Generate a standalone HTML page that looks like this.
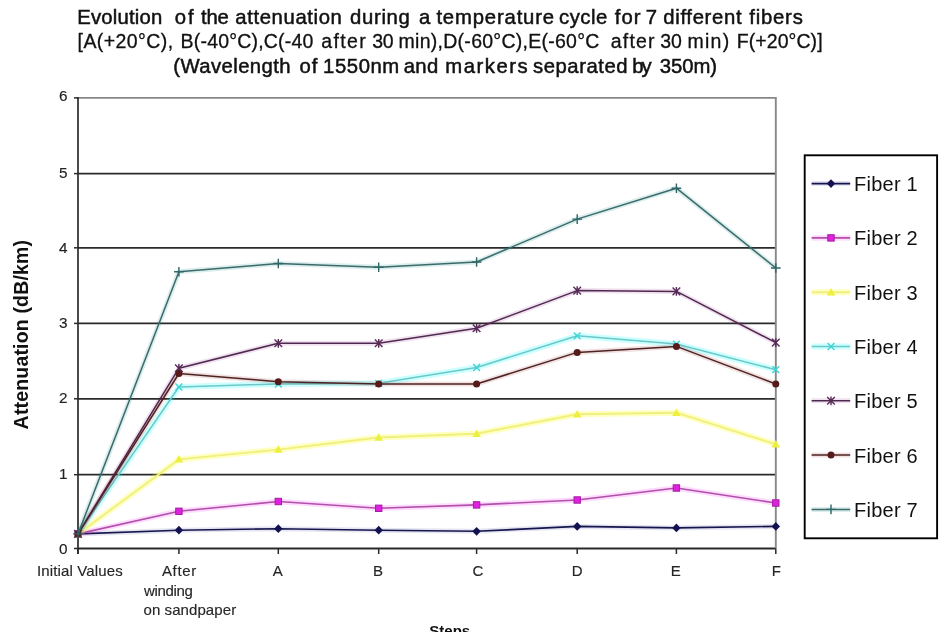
<!DOCTYPE html>
<html><head><meta charset="utf-8"><style>
html,body{margin:0;padding:0;background:#fff;}
svg{display:block;filter:blur(0.5px);}
text{font-family:"Liberation Sans",sans-serif;fill:#111;white-space:pre;}
.ax{font-size:15px;fill:#262626;stroke:#262626;stroke-width:0.15px;}
.ay{font-size:15.3px;fill:#222;stroke:#222;stroke-width:0.15px;}
.lg{font-size:20px;}
.bt{font-size:20px;font-weight:bold;}
.tt{font-size:19.5px;stroke:#111;stroke-width:1.0px;}
</style></head><body>
<svg xml:space="preserve" width="950" height="632" viewBox="0 0 950 632">
<rect width="950" height="632" fill="#fff"/>
<line x1="78" y1="548.5" x2="776" y2="548.5" stroke="#2a2a2a" stroke-width="1.8"/>
<line x1="78" y1="474.7" x2="776" y2="474.7" stroke="#2a2a2a" stroke-width="1.8"/>
<line x1="78" y1="398.8" x2="776" y2="398.8" stroke="#2a2a2a" stroke-width="1.8"/>
<line x1="78" y1="323.4" x2="776" y2="323.4" stroke="#2a2a2a" stroke-width="1.8"/>
<line x1="78" y1="247.8" x2="776" y2="247.8" stroke="#2a2a2a" stroke-width="1.8"/>
<line x1="78" y1="173.6" x2="776" y2="173.6" stroke="#2a2a2a" stroke-width="1.8"/>
<path d="M78 97.9H775.8V548.5" stroke="#888" stroke-width="1.9" fill="none"/>
<line x1="78" y1="96.9" x2="78" y2="554.0" stroke="#2a2a2a" stroke-width="1.7"/>
<line x1="74" y1="548.5" x2="78" y2="548.5" stroke="#2a2a2a" stroke-width="1.5"/>
<line x1="74" y1="474.7" x2="78" y2="474.7" stroke="#2a2a2a" stroke-width="1.5"/>
<line x1="74" y1="398.8" x2="78" y2="398.8" stroke="#2a2a2a" stroke-width="1.5"/>
<line x1="74" y1="323.4" x2="78" y2="323.4" stroke="#2a2a2a" stroke-width="1.5"/>
<line x1="74" y1="247.8" x2="78" y2="247.8" stroke="#2a2a2a" stroke-width="1.5"/>
<line x1="74" y1="173.6" x2="78" y2="173.6" stroke="#2a2a2a" stroke-width="1.5"/>
<line x1="74" y1="97.9" x2="78" y2="97.9" stroke="#2a2a2a" stroke-width="1.5"/>
<line x1="78.0" y1="548.5" x2="78.0" y2="554.0" stroke="#2a2a2a" stroke-width="1.5"/>
<line x1="178.9" y1="548.5" x2="178.9" y2="554.0" stroke="#2a2a2a" stroke-width="1.5"/>
<line x1="278.3" y1="548.5" x2="278.3" y2="554.0" stroke="#2a2a2a" stroke-width="1.5"/>
<line x1="378.7" y1="548.5" x2="378.7" y2="554.0" stroke="#2a2a2a" stroke-width="1.5"/>
<line x1="476.6" y1="548.5" x2="476.6" y2="554.0" stroke="#2a2a2a" stroke-width="1.5"/>
<line x1="577.2" y1="548.5" x2="577.2" y2="554.0" stroke="#2a2a2a" stroke-width="1.5"/>
<line x1="676.4" y1="548.5" x2="676.4" y2="554.0" stroke="#2a2a2a" stroke-width="1.5"/>
<line x1="775.8" y1="548.5" x2="775.8" y2="554.0" stroke="#2a2a2a" stroke-width="1.5"/>
<text x="67.4" y="553.7" text-anchor="end" class="ay">0</text>
<text x="67.4" y="479.0" text-anchor="end" class="ay">1</text>
<text x="67.4" y="402.7" text-anchor="end" class="ay">2</text>
<text x="67.4" y="328.4" text-anchor="end" class="ay">3</text>
<text x="67.4" y="252.9" text-anchor="end" class="ay">4</text>
<text x="67.4" y="177.5" text-anchor="end" class="ay">5</text>
<text x="67.4" y="101.3" text-anchor="end" class="ay">6</text>
<text x="36.92" y="575.6" class="ax" style="letter-spacing:0.144px">Initial Values</text>
<text x="161.97" y="575.6" class="ax" style="letter-spacing:0.650px">After</text>
<text x="272.77" y="575.6" class="ax">A</text>
<text x="372.97" y="575.6" class="ax">B</text>
<text x="472.54" y="575.6" class="ax">C</text>
<text x="571.87" y="575.6" class="ax">D</text>
<text x="670.77" y="575.6" class="ax">E</text>
<text x="771.87" y="575.6" class="ax">F</text>
<text x="144.12" y="596.1" class="ax" style="letter-spacing:-0.354px">winding</text>
<text x="143.47" y="614.6" class="ax" style="letter-spacing:0.085px">on sandpaper</text>
<text x="449.8" y="635.5" text-anchor="middle" class="bt" style="font-size:15px">Steps</text>
<text transform="translate(27.6 429.3) rotate(-90)" x="-0.09" class="bt" style="font-size:19.5px;letter-spacing:0.174px">Attenuation (dB/km)</text>
<text x="77.33" y="24.1" class="tt" style="font-size:20.3px;letter-spacing:0.184px;stroke-width:0.5px">Evolution</text>
<text x="174.85" y="24.1" class="tt" style="font-size:20.3px;letter-spacing:1.993px;stroke-width:0.5px">of</text>
<text x="201.09" y="24.1" class="tt" style="font-size:20.3px;letter-spacing:-0.205px;stroke-width:0.5px">the</text>
<text x="235.34" y="24.1" class="tt" style="font-size:20.3px;letter-spacing:0.612px;stroke-width:0.5px">attenuation</text>
<text x="350.05" y="24.1" class="tt" style="font-size:20.3px;letter-spacing:0.686px;stroke-width:0.5px">during</text>
<text x="419.04" y="24.1" class="tt" style="font-size:20.3px;letter-spacing:0.000px;stroke-width:0.5px">a</text>
<text x="436.39" y="24.1" class="tt" style="font-size:20.3px;letter-spacing:0.836px;stroke-width:0.5px">temperature</text>
<text x="559.04" y="24.1" class="tt" style="font-size:20.3px;letter-spacing:0.504px;stroke-width:0.5px">cycle</text>
<text x="614.81" y="24.1" class="tt" style="font-size:20.3px;letter-spacing:0.967px;stroke-width:0.5px">for</text>
<text x="645.66" y="24.1" class="tt" style="font-size:20.3px;letter-spacing:0.000px;stroke-width:0.5px">7</text>
<text x="663.25" y="24.1" class="tt" style="font-size:20.3px;letter-spacing:0.681px;stroke-width:0.5px">different</text>
<text x="749.31" y="24.1" class="tt" style="font-size:20.3px;letter-spacing:0.776px;stroke-width:0.5px">fibers</text>
<text x="77.61" y="47.5" class="tt" style="font-size:19.5px;letter-spacing:0.417px;stroke-width:0.3px">[A(+20°C),</text>
<text x="180.60" y="47.5" class="tt" style="font-size:19.5px;letter-spacing:0.187px;stroke-width:0.3px">B(-40°C),C(-40</text>
<text x="321.17" y="47.5" class="tt" style="font-size:19.5px;letter-spacing:1.383px;stroke-width:0.3px">after</text>
<text x="372.26" y="47.5" class="tt" style="font-size:19.5px;letter-spacing:-0.386px;stroke-width:0.3px">30</text>
<text x="398.61" y="47.5" class="tt" style="font-size:19.5px;letter-spacing:0.265px;stroke-width:0.3px">min),D(-60°C),E(-60°C</text>
<text x="610.67" y="47.5" class="tt" style="font-size:19.5px;letter-spacing:1.233px;stroke-width:0.3px">after</text>
<text x="660.16" y="47.5" class="tt" style="font-size:19.5px;letter-spacing:0.114px;stroke-width:0.3px">30</text>
<text x="687.51" y="47.5" class="tt" style="font-size:19.5px;letter-spacing:1.263px;stroke-width:0.3px">min)</text>
<text x="736.70" y="47.5" class="tt" style="font-size:19.5px;letter-spacing:0.077px;stroke-width:0.3px">F(+20°C)]</text>
<text x="173.34" y="72.5" class="tt" style="font-size:20.3px;letter-spacing:0.412px;stroke-width:0.5px">(Wavelength</text>
<text x="299.55" y="72.5" class="tt" style="font-size:20.3px;letter-spacing:0.993px;stroke-width:0.5px">of</text>
<text x="323.05" y="72.5" class="tt" style="font-size:20.3px;letter-spacing:0.585px;stroke-width:0.5px">1550nm</text>
<text x="403.74" y="72.5" class="tt" style="font-size:20.3px;letter-spacing:0.351px;stroke-width:0.5px">and</text>
<text x="445.35" y="72.5" class="tt" style="font-size:20.3px;letter-spacing:1.512px;stroke-width:0.5px">markers</text>
<text x="533.04" y="72.5" class="tt" style="font-size:20.3px;letter-spacing:0.548px;stroke-width:0.5px">separated</text>
<text x="632.29" y="72.5" class="tt" style="font-size:20.3px;letter-spacing:-1.992px;stroke-width:0.5px">by</text>
<text x="659.63" y="72.5" class="tt" style="font-size:20.3px;letter-spacing:-0.002px;stroke-width:0.5px">350m)</text>
<polyline points="78.0,533.9 178.9,530.2 278.3,528.7 378.7,530.2 476.6,531.3 577.2,526.4 676.4,527.9 775.8,526.4" fill="none" stroke="#000080" stroke-opacity="0.1" stroke-width="5.0" stroke-linejoin="round"/>
<polyline points="78.0,533.9 178.9,530.2 278.3,528.7 378.7,530.2 476.6,531.3 577.2,526.4 676.4,527.9 775.8,526.4" fill="none" stroke="#16164e" stroke-width="1.6" stroke-linejoin="round"/>
<path d="M78.0 529.5L82.2 533.9L78.0 538.3L73.8 533.9Z" fill="#121250"/>
<path d="M178.9 525.8L183.1 530.2L178.9 534.6L174.7 530.2Z" fill="#121250"/>
<path d="M278.3 524.3L282.5 528.7L278.3 533.1L274.1 528.7Z" fill="#121250"/>
<path d="M378.7 525.8L382.9 530.2L378.7 534.6L374.5 530.2Z" fill="#121250"/>
<path d="M476.6 526.9L480.8 531.3L476.6 535.7L472.4 531.3Z" fill="#121250"/>
<path d="M577.2 522.0L581.4 526.4L577.2 530.8L573.0 526.4Z" fill="#121250"/>
<path d="M676.4 523.5L680.6 527.9L676.4 532.3L672.2 527.9Z" fill="#121250"/>
<path d="M775.8 522.0L780.0 526.4L775.8 530.8L771.6 526.4Z" fill="#121250"/>
<polyline points="78.0,533.9 178.9,511.3 278.3,501.5 378.7,508.3 476.6,504.9 577.2,500.0 676.4,488.0 775.8,503.0" fill="none" stroke="#ff00ff" stroke-opacity="0.14" stroke-width="5.5" stroke-linejoin="round"/>
<polyline points="78.0,533.9 178.9,511.3 278.3,501.5 378.7,508.3 476.6,504.9 577.2,500.0 676.4,488.0 775.8,503.0" fill="none" stroke="#b050a8" stroke-width="1.6" stroke-linejoin="round"/>
<rect x="74.8" y="530.7" width="6.4" height="6.4" fill="#e020e0" stroke="#a020a0" stroke-width="1"/>
<rect x="175.7" y="508.1" width="6.4" height="6.4" fill="#e020e0" stroke="#a020a0" stroke-width="1"/>
<rect x="275.1" y="498.3" width="6.4" height="6.4" fill="#e020e0" stroke="#a020a0" stroke-width="1"/>
<rect x="375.5" y="505.1" width="6.4" height="6.4" fill="#e020e0" stroke="#a020a0" stroke-width="1"/>
<rect x="473.4" y="501.7" width="6.4" height="6.4" fill="#e020e0" stroke="#a020a0" stroke-width="1"/>
<rect x="574.0" y="496.8" width="6.4" height="6.4" fill="#e020e0" stroke="#a020a0" stroke-width="1"/>
<rect x="673.2" y="484.8" width="6.4" height="6.4" fill="#e020e0" stroke="#a020a0" stroke-width="1"/>
<rect x="772.6" y="499.8" width="6.4" height="6.4" fill="#e020e0" stroke="#a020a0" stroke-width="1"/>
<polyline points="78.0,533.9 178.9,459.4 278.3,449.6 378.7,437.5 476.6,433.7 577.2,414.2 676.4,412.7 775.8,444.3" fill="none" stroke="#ffff00" stroke-opacity="0.24" stroke-width="6.0" stroke-linejoin="round"/>
<polyline points="78.0,533.9 178.9,459.4 278.3,449.6 378.7,437.5 476.6,433.7 577.2,414.2 676.4,412.7 775.8,444.3" fill="none" stroke="#f0f080" stroke-width="1.9" stroke-linejoin="round"/>
<path d="M78.0 529.6L82.3 537.2L73.7 537.2Z" fill="#eef040"/>
<path d="M178.9 455.1L183.2 462.6L174.6 462.6Z" fill="#eef040"/>
<path d="M278.3 445.3L282.6 452.8L274.0 452.8Z" fill="#eef040"/>
<path d="M378.7 433.2L383.0 440.7L374.4 440.7Z" fill="#eef040"/>
<path d="M476.6 429.4L480.9 437.0L472.3 437.0Z" fill="#eef040"/>
<path d="M577.2 409.9L581.5 417.4L572.9 417.4Z" fill="#eef040"/>
<path d="M676.4 408.4L680.7 415.9L672.1 415.9Z" fill="#eef040"/>
<path d="M775.8 440.0L780.1 447.5L771.5 447.5Z" fill="#eef040"/>
<polyline points="78.0,533.9 178.9,387.0 278.3,384.0 378.7,383.3 476.6,367.5 577.2,335.8 676.4,344.1 775.8,369.7" fill="none" stroke="#00ffff" stroke-opacity="0.2" stroke-width="6.0" stroke-linejoin="round"/>
<polyline points="78.0,533.9 178.9,387.0 278.3,384.0 378.7,383.3 476.6,367.5 577.2,335.8 676.4,344.1 775.8,369.7" fill="none" stroke="#6cc8c8" stroke-width="1.5" stroke-linejoin="round"/>
<path d="M74.6 530.5L81.4 537.3M81.4 530.5L74.6 537.3" stroke="#40d4d4" stroke-width="1.4" fill="none"/>
<path d="M175.5 383.6L182.3 390.4M182.3 383.6L175.5 390.4" stroke="#40d4d4" stroke-width="1.4" fill="none"/>
<path d="M274.9 380.6L281.7 387.4M281.7 380.6L274.9 387.4" stroke="#40d4d4" stroke-width="1.4" fill="none"/>
<path d="M375.3 379.9L382.1 386.7M382.1 379.9L375.3 386.7" stroke="#40d4d4" stroke-width="1.4" fill="none"/>
<path d="M473.2 364.1L480.0 370.9M480.0 364.1L473.2 370.9" stroke="#40d4d4" stroke-width="1.4" fill="none"/>
<path d="M573.8 332.4L580.6 339.2M580.6 332.4L573.8 339.2" stroke="#40d4d4" stroke-width="1.4" fill="none"/>
<path d="M673.0 340.7L679.8 347.5M679.8 340.7L673.0 347.5" stroke="#40d4d4" stroke-width="1.4" fill="none"/>
<path d="M772.4 366.3L779.2 373.1M779.2 366.3L772.4 373.1" stroke="#40d4d4" stroke-width="1.4" fill="none"/>
<polyline points="78.0,533.9 178.9,368.2 278.3,343.3 378.7,343.3 476.6,328.3 577.2,290.6 676.4,291.4 775.8,342.6" fill="none" stroke="#800080" stroke-opacity="0.12" stroke-width="5.0" stroke-linejoin="round"/>
<polyline points="78.0,533.9 178.9,368.2 278.3,343.3 378.7,343.3 476.6,328.3 577.2,290.6 676.4,291.4 775.8,342.6" fill="none" stroke="#4e2a4e" stroke-width="1.5" stroke-linejoin="round"/>
<path d="M74.2 530.1L81.8 537.7M81.8 530.1L74.2 537.7M78.0 529.5L78.0 538.3" stroke="#582a58" stroke-width="1.4" fill="none"/>
<path d="M175.1 364.4L182.7 372.0M182.7 364.4L175.1 372.0M178.9 363.8L178.9 372.6" stroke="#582a58" stroke-width="1.4" fill="none"/>
<path d="M274.5 339.5L282.1 347.1M282.1 339.5L274.5 347.1M278.3 338.9L278.3 347.7" stroke="#582a58" stroke-width="1.4" fill="none"/>
<path d="M374.9 339.5L382.5 347.1M382.5 339.5L374.9 347.1M378.7 338.9L378.7 347.7" stroke="#582a58" stroke-width="1.4" fill="none"/>
<path d="M472.8 324.5L480.4 332.1M480.4 324.5L472.8 332.1M476.6 323.9L476.6 332.7" stroke="#582a58" stroke-width="1.4" fill="none"/>
<path d="M573.4 286.8L581.0 294.4M581.0 286.8L573.4 294.4M577.2 286.2L577.2 295.0" stroke="#582a58" stroke-width="1.4" fill="none"/>
<path d="M672.6 287.6L680.2 295.2M680.2 287.6L672.6 295.2M676.4 287.0L676.4 295.8" stroke="#582a58" stroke-width="1.4" fill="none"/>
<path d="M772.0 338.8L779.6 346.4M779.6 338.8L772.0 346.4M775.8 338.2L775.8 347.0" stroke="#582a58" stroke-width="1.4" fill="none"/>
<polyline points="78.0,533.9 178.9,373.5 278.3,381.8 378.7,384.0 476.6,384.0 577.2,352.4 676.4,346.4 775.8,384.0" fill="none" stroke="#800000" stroke-opacity="0.12" stroke-width="5.0" stroke-linejoin="round"/>
<polyline points="78.0,533.9 178.9,373.5 278.3,381.8 378.7,384.0 476.6,384.0 577.2,352.4 676.4,346.4 775.8,384.0" fill="none" stroke="#4e2222" stroke-width="1.5" stroke-linejoin="round"/>
<circle cx="78.0" cy="533.9" r="3.5" fill="#561a1a"/>
<circle cx="178.9" cy="373.5" r="3.5" fill="#561a1a"/>
<circle cx="278.3" cy="381.8" r="3.5" fill="#561a1a"/>
<circle cx="378.7" cy="384.0" r="3.5" fill="#561a1a"/>
<circle cx="476.6" cy="384.0" r="3.5" fill="#561a1a"/>
<circle cx="577.2" cy="352.4" r="3.5" fill="#561a1a"/>
<circle cx="676.4" cy="346.4" r="3.5" fill="#561a1a"/>
<circle cx="775.8" cy="384.0" r="3.5" fill="#561a1a"/>
<polyline points="78.0,533.9 178.9,271.8 278.3,263.5 378.7,267.3 476.6,262.0 577.2,219.1 676.4,188.2 775.8,268.0" fill="none" stroke="#008080" stroke-opacity="0.14" stroke-width="5.0" stroke-linejoin="round"/>
<polyline points="78.0,533.9 178.9,271.8 278.3,263.5 378.7,267.3 476.6,262.0 577.2,219.1 676.4,188.2 775.8,268.0" fill="none" stroke="#3a6a6a" stroke-width="1.5" stroke-linejoin="round"/>
<path d="M73.2 533.9L82.8 533.9M78.0 529.1L78.0 538.7" stroke="#2e6666" stroke-width="1.4" fill="none"/>
<path d="M174.1 271.8L183.7 271.8M178.9 267.0L178.9 276.6" stroke="#2e6666" stroke-width="1.4" fill="none"/>
<path d="M273.5 263.5L283.1 263.5M278.3 258.7L278.3 268.3" stroke="#2e6666" stroke-width="1.4" fill="none"/>
<path d="M373.9 267.3L383.5 267.3M378.7 262.5L378.7 272.1" stroke="#2e6666" stroke-width="1.4" fill="none"/>
<path d="M471.8 262.0L481.4 262.0M476.6 257.2L476.6 266.8" stroke="#2e6666" stroke-width="1.4" fill="none"/>
<path d="M572.4 219.1L582.0 219.1M577.2 214.3L577.2 223.9" stroke="#2e6666" stroke-width="1.4" fill="none"/>
<path d="M671.6 188.2L681.2 188.2M676.4 183.4L676.4 193.0" stroke="#2e6666" stroke-width="1.4" fill="none"/>
<path d="M771.0 268.0L780.6 268.0M775.8 263.2L775.8 272.8" stroke="#2e6666" stroke-width="1.4" fill="none"/>
<rect x="804.7" y="155.3" width="132.4" height="383" fill="none" stroke="#000" stroke-width="1.9"/>
<line x1="811.6" y1="183.6" x2="850.2" y2="183.6" stroke="#000080" stroke-opacity="0.1" stroke-width="5.0"/>
<line x1="811.6" y1="183.6" x2="850.2" y2="183.6" stroke="#16164e" stroke-width="1.6"/>
<path d="M831.0 179.2L835.2 183.6L831.0 188.0L826.8 183.6Z" fill="#121250"/>
<text x="854" y="191.0" class="lg" style="letter-spacing:0.25px">Fiber 1</text>
<line x1="811.6" y1="237.9" x2="850.2" y2="237.9" stroke="#ff00ff" stroke-opacity="0.14" stroke-width="5.5"/>
<line x1="811.6" y1="237.9" x2="850.2" y2="237.9" stroke="#b050a8" stroke-width="1.6"/>
<rect x="827.8" y="234.7" width="6.4" height="6.4" fill="#e020e0" stroke="#a020a0" stroke-width="1"/>
<text x="854" y="245.3" class="lg" style="letter-spacing:0.25px">Fiber 2</text>
<line x1="811.6" y1="292.2" x2="850.2" y2="292.2" stroke="#ffff00" stroke-opacity="0.24" stroke-width="6.0"/>
<line x1="811.6" y1="292.2" x2="850.2" y2="292.2" stroke="#f0f080" stroke-width="1.9"/>
<path d="M831.0 287.9L835.3 295.4L826.7 295.4Z" fill="#eef040"/>
<text x="854" y="299.6" class="lg" style="letter-spacing:0.25px">Fiber 3</text>
<line x1="811.6" y1="346.5" x2="850.2" y2="346.5" stroke="#00ffff" stroke-opacity="0.2" stroke-width="6.0"/>
<line x1="811.6" y1="346.5" x2="850.2" y2="346.5" stroke="#6cc8c8" stroke-width="1.5"/>
<path d="M827.6 343.1L834.4 349.9M834.4 343.1L827.6 349.9" stroke="#40d4d4" stroke-width="1.4" fill="none"/>
<text x="854" y="353.9" class="lg" style="letter-spacing:0.25px">Fiber 4</text>
<line x1="811.6" y1="400.8" x2="850.2" y2="400.8" stroke="#800080" stroke-opacity="0.12" stroke-width="5.0"/>
<line x1="811.6" y1="400.8" x2="850.2" y2="400.8" stroke="#4e2a4e" stroke-width="1.5"/>
<path d="M827.2 397.0L834.8 404.6M834.8 397.0L827.2 404.6M831.0 396.4L831.0 405.2" stroke="#582a58" stroke-width="1.4" fill="none"/>
<text x="854" y="408.2" class="lg" style="letter-spacing:0.25px">Fiber 5</text>
<line x1="811.6" y1="455.1" x2="850.2" y2="455.1" stroke="#800000" stroke-opacity="0.12" stroke-width="5.0"/>
<line x1="811.6" y1="455.1" x2="850.2" y2="455.1" stroke="#4e2222" stroke-width="1.5"/>
<circle cx="831.0" cy="455.1" r="3.5" fill="#561a1a"/>
<text x="854" y="462.5" class="lg" style="letter-spacing:0.25px">Fiber 6</text>
<line x1="811.6" y1="509.4" x2="850.2" y2="509.4" stroke="#008080" stroke-opacity="0.14" stroke-width="5.0"/>
<line x1="811.6" y1="509.4" x2="850.2" y2="509.4" stroke="#3a6a6a" stroke-width="1.5"/>
<path d="M826.2 509.4L835.8 509.4M831.0 504.6L831.0 514.2" stroke="#2e6666" stroke-width="1.4" fill="none"/>
<text x="854" y="516.8" class="lg" style="letter-spacing:0.25px">Fiber 7</text>
</svg>
</body></html>
